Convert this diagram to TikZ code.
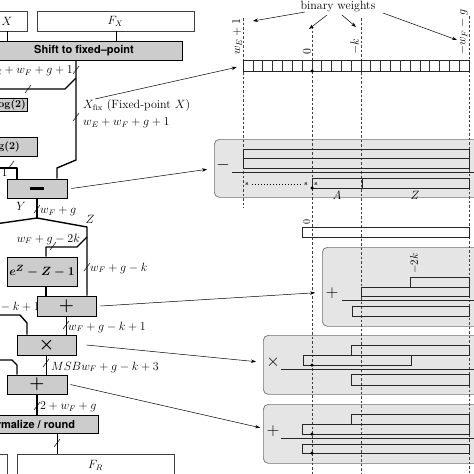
\documentclass[tikz,border=0pt]{standalone}
\usepackage{fontspec}
\newfontfamily\heros{TeX Gyre Heros}
\usetikzlibrary{arrows.meta}
\definecolor{boxgray}{gray}{0.80}
\definecolor{panelgray}{gray}{0.90}
\definecolor{panelline}{gray}{0.45}
\newcommand\bmark[2]{\draw[tickmark] (#1,#2) ++(-3,4) -- ++(6,-8);}
\begin{document}
\begin{tikzpicture}[x=1pt,y=-1pt,
  box/.style={draw=black,line width=0.8pt,fill=boxgray,inner sep=0pt,font=\heros\bfseries\fontsize{11}{13}\selectfont},
  iobox/.style={draw=black!75,line width=0.6pt,fill=white,inner sep=0pt,font=\fontsize{12}{14}\selectfont},
  bus/.style={line width=1.4pt,line join=round},
  thinbus/.style={line width=0.8pt},
  tickmark/.style={line width=0.5pt},
  lbl/.style={inner sep=0pt,font=\fontsize{12}{14}\selectfont},
  rlbl/.style={inner sep=1pt,font=\fontsize{12}{14}\selectfont,rotate=90,anchor=south west},
  arr/.style={-{Stealth[length=5pt,width=3.5pt]},line width=0.5pt},
  panel/.style={draw=panelline,fill=panelgray,rounded corners=5pt,line width=0.7pt,anchor=north west,inner sep=0pt},
  bitbox/.style={draw=black!85,line width=0.7pt},
  wline/.style={black!75,line width=0.5pt,dash pattern=on 2.5pt off 2pt},
  dotm/.style={circle,fill=black,inner sep=0pt,minimum size=3.5pt},
  opsym/.style={inner sep=0pt,font=\fontsize{17}{19}\selectfont},
  tiny/.style={inner sep=0pt,font=\bfseries\fontsize{6}{7}\selectfont},
]
\useasboundingbox (0,0) rectangle (474,474);
\clip (0,0) rectangle (474,474);

% ---------- right side: panels ----------
\node[panel,minimum width=281pt,minimum height=58pt] (pminus) at (214,139) {};
\node[panel,minimum width=173pt,minimum height=79pt] (pplus1) at (322,247) {};
\node[panel,minimum width=232pt,minimum height=59pt] (ptimes) at (263,335) {};
\node[panel,minimum width=232pt,minimum height=59pt] (pplus2) at (263,404) {};

% weight lines
\coordinate (w1t) at (243,18); \coordinate (w1b) at (243,208);
\coordinate (w0t) at (312,26); \coordinate (w0b) at (312,476);
\coordinate (wkt) at (361,18); \coordinate (wkb) at (361,476);
\coordinate (wgt) at (469,16); \coordinate (wgb) at (469,476);
\draw[wline] (w1t) -- (w1b);
\draw[wline] (w0t) -- (w0b);
\draw[wline] (wkt) -- (wkb);
\draw[wline] (wgt) -- (wgb);

% bit strip
\node[draw=black!85,line width=0.7pt,fill=white,minimum width=226pt,minimum height=11pt,inner sep=0pt,anchor=north west] (strip) at (243,60) {};
\foreach \i in {1,...,22} \draw[line width=0.5pt,black!80] (243+\i*9.826,60) -- (243+\i*9.826,71);
\node[dotm] (d0) at (312,71) {};

% weight labels
\node[rlbl] (lw1) at (243,56) {$w_E+1$};
\node[rlbl] (lw0) at (312,56) {$0$};
\node[rlbl] (lwk) at (361,56) {$-k$};
\node[rlbl] (lwg) at (469,56) {$-w_F-g$};
\node[lbl] (bw) at (338,7) {binary weights};
\coordinate (bs1) at (305,12); \coordinate (bt1) at (253,21);
\coordinate (bs2) at (327,15); \coordinate (bt2) at (309,29);
\coordinate (bs3) at (342,15); \coordinate (bt3) at (356,27);
\coordinate (bs4) at (383,13); \coordinate (bt4) at (457,40);
\draw[arr] (bs1) -- (bt1);
\draw[arr] (bs2) -- (bt2);
\draw[arr] (bs3) -- (bt3);
\draw[arr] (bs4) -- (bt4);

% minus panel content
\node[opsym] (sminus) at (223,165) {$-$};
\draw[bitbox] (243,149) rectangle (469,158);
\draw[bitbox] (243,158) rectangle (469,168);
\draw[line width=0.7pt,black!85] (232,172) -- (495,172);
\node[tiny] (s1) at (247,184) {s};
\draw[line width=1pt,dash pattern=on 1.2pt off 1.8pt] (252,184) -- (302,184);
\node[tiny] (s2) at (306,184) {s};
\node[tiny] (s3) at (316,184) {s};
\draw[bitbox] (312,178) rectangle (469,188);
\draw[bitbox] (362,178) -- (362,188);
\node[dotm] (dm) at (312,188) {};
\node[lbl] (la) at (337,195) {$A$};
\node[lbl] (lz) at (415,195) {$Z$};

% zero strip
\draw[bitbox] (302,227) rectangle (469,237);
\node[rlbl,font=\fontsize{10}{12}\selectfont] (l0b) at (311,226) {$0$};

% plus panel 1
\node[opsym] (splus1) at (332,293) {$+$};
\node[rlbl,font=\fontsize{11}{13}\selectfont] (l2k) at (420,275) {$-2k$};
\draw[bitbox] (410,277) rectangle (469,287);
\draw[bitbox] (361,287) rectangle (469,296);
\draw[line width=0.7pt,black!85] (342,300) -- (495,300);
\draw[bitbox] (352,306) rectangle (469,316);

% times panel
\node[opsym] (stimes) at (273,362) {$\times$};
\draw[bitbox] (351,345) rectangle (469,355);
\draw[bitbox] (303,355) rectangle (411,365);
\node[dotm] (dt) at (312,365) {};
\draw[line width=0.7pt,black!85] (281,369) -- (495,369);
\draw[bitbox] (351,374) rectangle (469,385);

% plus panel 2
\node[opsym] (splus2) at (273,431) {$+$};
\draw[bitbox] (351,414) rectangle (469,424);
\draw[bitbox] (302,424) rectangle (469,434);
\node[dotm] (dp1) at (312,434) {};
\draw[line width=0.7pt,black!85] (281,438) -- (495,438);
\draw[bitbox] (302,444) rectangle (469,453);
\node[dotm] (dp2) at (312,453) {};

% ---------- left side: labels ----------
\node[lbl,anchor=east] (lb1) at (73,71) {$w_E+w_F+g+1$};
\node[lbl,anchor=west] (lb2) at (83,106) {$X_{\mathrm{fix}}$ (Fixed-point $X$)};
\node[lbl,anchor=west] (lb3) at (83,123) {$w_E+w_F+g+1$};
\node[lbl] (lb4) at (4.5,173) {$1$};
\node[lbl] (lb5) at (21,206) {$Y$};
\node[lbl,anchor=west] (lb6) at (40,211) {$w_F+g$};
\node[lbl] (lb7) at (90,219) {$Z$};
\node[lbl,anchor=east] (lb8) at (80,239) {$w_F+g-2k$};
\node[lbl,anchor=west] (lb9) at (90,268) {$w_F+g-k$};
\node[lbl,anchor=east] (lb10) at (40,307) {$w_F+g-k+1$};
\node[lbl,anchor=west] (lb11) at (68,327) {$w_F+g-k+1$};
\node[lbl,anchor=west] (lb12) at (51,367) {$MSB w_F+g-k+3$};
\node[lbl,anchor=west] (lb13) at (40,407) {$2+w_F+g$};

% ---------- left side: boxes ----------
\node[iobox,minimum width=40pt,minimum height=20pt] (bx) at (7,21) {$X$};
\node[iobox,minimum width=157pt,minimum height=20pt] (bfx) at (115.5,21) {$F_X$};
\node[box,minimum width=196pt,minimum height=19pt] (shift) at (84,50.5) {Shift to fixed–point};
\node[box,minimum width=33pt,minimum height=13pt,font=\bfseries\fontsize{10.5}{12}\selectfont] (log1) at (10.5,105) {log(2)};
\node[box,minimum width=65pt,minimum height=19pt,font=\bfseries\fontsize{10.5}{12}\selectfont] (log2) at (4.5,146.5) {log(2)};
\node[box,minimum width=60pt,minimum height=19pt] (minus) at (37,188.5) {\rule{14pt}{3pt}};
\node[box,minimum width=70pt,minimum height=29pt,font=\fontsize{12.5}{14}\selectfont\boldmath] (ez) at (42,271.5) {$e^Z-Z-1$};
\node[box,minimum width=59pt,minimum height=20pt,font=\fontsize{17}{19}\selectfont\boldmath] (plus1) at (66.5,306) {$+$};
\node[box,minimum width=59pt,minimum height=20pt,font=\fontsize{17}{19}\selectfont\boldmath] (times) at (46.5,345) {$\times$};
\node[box,minimum width=60pt,minimum height=19pt,font=\fontsize{17}{19}\selectfont\boldmath] (plus2) at (37,384.5) {$+$};
\node[box,minimum width=139pt,minimum height=18pt] (norm) at (28.5,424) {Normalize / round};
\node[iobox,minimum width=157pt,minimum height=22pt] (fr) at (95.5,465) {$F_R$};
\node[iobox,minimum width=60pt,minimum height=22pt] (fl) at (-23,465) {};

% ---------- connectors ----------
\draw[thinbus] (bx.south) -- (bx.south |- shift.north);
\coordinate (fxc) at (116,0);
\draw[thinbus] (bfx.south -| fxc) -- (fxc |- shift.north);
\coordinate (c1) at (76,160); \coordinate (c2) at (57,168);
\draw[bus] (shift.south -| c1) -- (c1) -- (c2) -- (c2 |- minus.north);
\coordinate (b1) at (76,78); \coordinate (b2) at (65,89); \coordinate (b3) at (-5,89);
\draw[bus] (b1) -- (b2) -- (b3);
\coordinate (l1) at (-5,168); \coordinate (l2) at (17,168);
\draw[bus] (l1) -- (l2) -- (l2 |- minus.north);
\coordinate (yb) at (37,218); \coordinate (yl) at (-5,224); \coordinate (zc) at (87,227);
\draw[bus] (minus.south) -- (yb);
\draw[bus] (yb) -- (yl);
\draw[bus] (yb) -- (zc) -- (zc |- plus1.north);
\coordinate (zb) at (87,237); \coordinate (zd) at (77,247); \coordinate (ze) at (46,247);
\draw[bus] (zb) -- (zd) -- (ze) -- (ze |- ez.north);
\draw[bus] (ez.south -| ze) -- (ze |- plus1.north);
\coordinate (t1) at (-5,315); \coordinate (t2) at (20,315); \coordinate (t3) at (27,323);
\draw[bus] (t1) -- (t2) -- (t3) -- (t3 |- times.north);
\draw[bus] (plus1.south) -- (plus1.south |- times.north);
\coordinate (u1) at (-5,360); \coordinate (u2) at (12,360); \coordinate (u3) at (17,365);
\draw[bus] (u1) -- (u2) -- (u3) -- (u3 |- plus2.north);
\draw[bus] (times.south) -- (times.south |- plus2.north);
\draw[bus] (plus2.south) -- (plus2.south |- norm.north);
\coordinate (n1) at (57,0);
\draw[thinbus] (norm.south -| n1) -- (n1 |- fr.north);

% bus width marks
\bmark{76}{70}
\bmark{28}{89}
\bmark{11}{165}
\bmark{76}{117}
\bmark{37}{209}
\bmark{53}{246}
\bmark{87}{267}
\bmark{66}{325}
\bmark{46}{363}
\bmark{37}{406}
\bmark{57}{443}

% ---------- arrows to panels ----------
\coordinate (xa) at (95,99);
\draw[arr,shorten >=6.5pt] (xa) -- (strip.west);
\draw[arr,shorten >=7pt] ([xshift=4pt]minus.east) -- (pminus.west);
\draw[arr,shorten >=7pt] ([xshift=4pt]plus1.east) -- ([yshift=-5.5pt]pplus1.west);
\draw[arr,shorten >=7pt] ([xshift=10pt]times.east) -- ([yshift=2.5pt]ptimes.west);
\draw[arr,shorten >=3pt] ([xshift=3pt]plus2.east) -- ([yshift=5.5pt]pplus2.west);
\end{tikzpicture}
\end{document}
